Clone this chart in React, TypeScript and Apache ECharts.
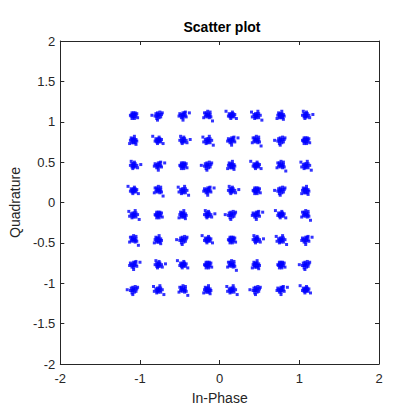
import React, { useEffect, useRef } from "react";
import * as echarts from "echarts";

// Constellation levels (64-QAM, normalized)
const levels = [-1.08, -0.77, -0.46, -0.15, 0.15, 0.46, 0.77, 1.08];

// Noise offset patterns read from the blobs (units of 0.01)
const pattern0 = [[0,0],[2,1],[-2,1],[1,-2],[-1,-2],[3,-1],[-3,-1],[0,3],[2,3],[-2,3],[4,2],[-4,0],[1,-4],[-2,-4],[5,-3],[1,1],[-1,-1]];
const pattern1 = [[0,0],[2,0],[-2,0],[0,2],[0,-2],[2,2],[-2,-2],[3,-2],[-3,2],[1,4],[-1,-4],[4,1],[-4,-1],[6,-4],[-7,5],[1,-1],[-1,1]];
const pattern2 = [[1,1],[-1,1],[1,-1],[-1,-1],[3,0],[-3,0],[0,3],[0,-3],[2,3],[-2,-3],[4,-2],[-4,2],[3,4],[-5,-1],[0,-6],[8,3]];
const pattern3 = [[0,1],[2,-1],[-2,-1],[1,2],[-1,2],[3,1],[-3,3],[0,-3],[2,-3],[-2,-3],[4,-1],[-4,0],[1,5],[-5,-4],[3,-5],[0,-1],[-2,1]];
const pattern4 = [[0,0],[1,2],[-1,2],[2,-1],[-2,-1],[3,2],[-3,1],[0,-3],[3,-3],[-2,-4],[5,0],[-5,-2],[2,5],[-6,4],[7,-6],[1,0],[-1,-2]];
const pattern5 = [[0,0],[2,1],[-2,-1],[1,-3],[-1,3],[3,-2],[-3,2],[4,1],[-4,-1],[2,4],[-2,-4],[5,3],[-1,-6],[-8,0],[0,1],[-1,-1]];
const pattern6 = [[1,0],[-1,0],[0,2],[0,-2],[2,2],[-2,2],[2,-2],[-2,-2],[4,0],[-4,0],[1,4],[-1,-4],[5,-3],[-3,5],[9,1],[0,0]];
const pattern7 = [[0,0],[2,-1],[-2,1],[1,2],[-1,-2],[3,1],[-3,-1],[2,-3],[-2,3],[4,-2],[-4,3],[0,5],[3,4],[-5,-3],[6,-7],[1,0],[-1,1]];
const patterns = [pattern0, pattern1, pattern2, pattern3, pattern4, pattern5, pattern6, pattern7];

// Which blob shape each constellation point has (rows top→bottom, cols left→right)
const shapeGrid = [
  [0, 5, 2, 7, 1, 4, 3, 6],
  [3, 1, 6, 4, 2, 7, 5, 0],
  [6, 2, 0, 5, 3, 1, 7, 4],
  [1, 7, 4, 2, 6, 0, 5, 3],
  [4, 0, 3, 6, 5, 2, 1, 7],
  [7, 3, 5, 1, 0, 6, 4, 2],
  [2, 6, 1, 0, 7, 3, 0, 5],
  [5, 4, 7, 3, 4, 5, 2, 1],
];

const xTicks = [-2, -1, 0, 1, 2];
const yTicks = [-2, -1.5, -1, -0.5, 0, 0.5, 1, 1.5, 2];

export default function App() {
  const ref = useRef<HTMLDivElement>(null);
  useEffect(() => {
    if (!ref.current) return;
    const chart = echarts.init(ref.current, undefined, { renderer: "svg" });
    const data: number[][] = [];
    for (let r = 0; r < 8; r++) {
      for (let c = 0; c < 8; c++) {
        const p = patterns[shapeGrid[r][c]];
        const cx = levels[c];
        const cy = levels[7 - r];
        for (const [dx, dy] of p) data.push([cx + dx / 100, cy + dy / 100]);
      }
    }
    const axisColor = "#262626";
    const font = "Liberation Sans, Arial, sans-serif";
    const baseX = {
      type: "value",
      min: xTicks[0],
      max: xTicks[xTicks.length - 1],
      interval: 1,
      splitLine: { show: false },
      axisLine: { show: true, onZero: false, lineStyle: { color: axisColor, width: 1 } },
      axisTick: { show: true, inside: true, length: 4, lineStyle: { color: axisColor } },
    };
    const baseY = {
      type: "value",
      min: yTicks[0],
      max: yTicks[yTicks.length - 1],
      interval: 0.5,
      splitLine: { show: false },
      axisLine: { show: true, onZero: false, lineStyle: { color: axisColor, width: 1 } },
      axisTick: { show: true, inside: true, length: 4, lineStyle: { color: axisColor } },
    };
    chart.setOption({
      animation: false,
      backgroundColor: "#ffffff",
      title: {
        text: "Scatter plot",
        left: 217,
        top: 15,
        textAlign: "center",
        textStyle: { fontFamily: font, fontSize: 14, fontWeight: "bold", color: "#000" },
      },
      grid: { left: 55, right: 41, top: 41, bottom: 56 },
      xAxis: [
        {
          ...baseX,
          position: "bottom",
          name: "In-Phase",
          nameLocation: "middle",
          nameGap: 27,
          nameTextStyle: { fontFamily: font, fontSize: 14, color: axisColor },
          axisLabel: { fontFamily: font, fontSize: 13, color: axisColor, margin: 8 },
        },
        { ...baseX, position: "top", axisLabel: { show: false } },
      ],
      yAxis: [
        {
          ...baseY,
          position: "left",
          name: "Quadrature",
          nameLocation: "middle",
          nameGap: 31,
          nameTextStyle: { fontFamily: font, fontSize: 14, color: axisColor },
          axisLabel: { fontFamily: font, fontSize: 13, color: axisColor, margin: 5 },
        },
        { ...baseY, position: "right", axisLabel: { show: false } },
      ],
      series: [
        {
          type: "scatter",
          xAxisIndex: 0,
          yAxisIndex: 0,
          data,
          symbol: "rect",
          symbolSize: 3,
          itemStyle: { color: "#0000ff" },
        },
      ],
    });
    return () => chart.dispose();
  }, []);
  return <div ref={ref} style={{ position: "absolute", left: 0, top: 0, width: 420, height: 420 }} />;
}
